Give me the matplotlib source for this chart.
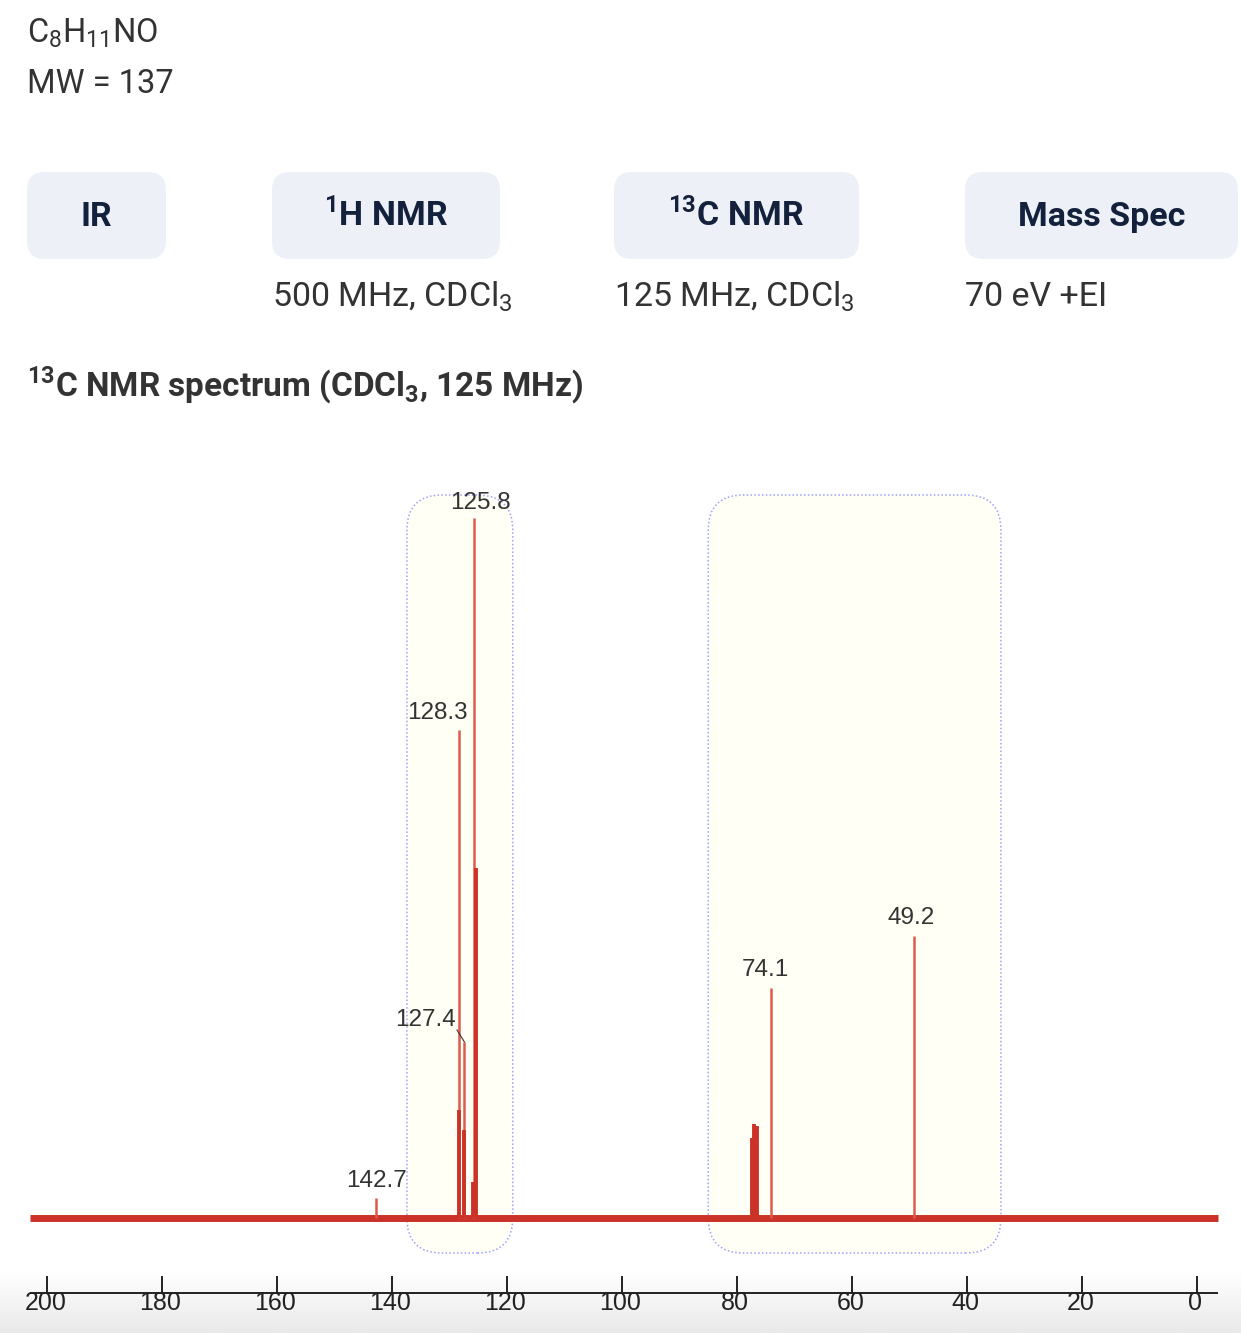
import matplotlib
matplotlib.use("Agg")
import matplotlib.pyplot as plt
import numpy as np
from matplotlib.patches import FancyBboxPatch

plt.rcParams['font.family'] = ['Roboto', 'DejaVu Sans']
plt.rcParams['mathtext.fontset'] = 'custom'
plt.rcParams['mathtext.rm'] = 'Roboto'
plt.rcParams['mathtext.bf'] = 'Roboto:bold'

# --- data -------------------------------------------------------------
formula = "C$_8$H$_{11}$NO"
mw_text = "MW = 137"
tabs = ["IR", "$^{\\mathbf{1}}$H NMR", "$^{\\mathbf{13}}$C NMR", "Mass Spec"]
tab_notes = ["", "500 MHz, CDCl$_3$", "125 MHz, CDCl$_3$", "70 eV +EI"]
heading = "$^{\\mathbf{13}}$C NMR spectrum (CDCl$_{\\mathbf{3}}$, 125 MHz)"

# main peak lines (ppm, height above baseline in px-like units)
peak_ppm = [142.7, 128.3, 127.4, 125.8, 74.1, 49.2]
peak_height = [20, 488, 176, 700, 230, 282]
peak_labels = ["142.7", "128.3", "127.4", "125.8", "74.1", "49.2"]
# broad lower parts / solvent lines
shoulder_ppm = [128.4, 127.5, 125.9, 125.4, 77.4, 77.0, 76.6]
shoulder_height = [108, 88, 36, 350, 80, 94, 92]

# highlighted regions (ppm)
regions = [(137.4, 119.0), (85.0, 34.1)]
ticks = [200, 180, 160, 140, 120, 100, 80, 60, 40, 20, 0]

# --- figure -----------------------------------------------------------
W, H = 1241, 1333
fig = plt.figure(figsize=(W / 100, H / 100), dpi=100)
fig.patch.set_facecolor("white")

ax0 = fig.add_axes([0, 0, 1, 1])
ax0.axis("off")

# bottom gradient
grad = np.linspace(0, 1, 50).reshape(-1, 1)
ax0.imshow(grad, extent=[0, W, H, 1272], cmap=matplotlib.colors.LinearSegmentedColormap.from_list(
    "g", ["#ffffff", "#e9e9e9"]), aspect="auto", zorder=0)
ax0.set_xlim(0, W)
ax0.set_ylim(H, 0)

txt = "#333333"
navy = "#14213d"
ax0.text(27, 42, formula, fontsize=23.5, color=txt, va="baseline")
ax0.text(27, 93, mw_text, fontsize=23.5, color=txt, va="baseline")

tab_boxes = [(27, 139), (272, 228), (614, 245), (965, 273)]
for (x, w), label, note in zip(tab_boxes, tabs, tab_notes):
    ax0.add_patch(FancyBboxPatch((x, 172), w, 87, boxstyle="round,pad=0,rounding_size=18",
                                 facecolor="#edf1f7", edgecolor="none"))
    ax0.text(x + w / 2, 226, label, fontsize=24.5, fontweight="bold", color=navy,
             ha="center", va="baseline")
    if note:
        ax0.text(x, 306, note, fontsize=24.5, color=txt, va="baseline")

ax0.text(27, 396, heading, fontsize=24, fontweight="bold", color=txt, va="baseline")

# --- spectrum ---------------------------------------------------------
top_px = 420
ax = fig.add_axes([0, 0, 1, (H - top_px) / H])
ax.patch.set_alpha(0)
px_per_ppm = 5.75
ax.set_xlim(1197 / px_per_ppm, (1197 - W) / px_per_ppm)
ax.set_ylim(1218 - H, 1218 - top_px)
ax.axis("off")

for lo, hi in regions:
    ax.add_patch(FancyBboxPatch((hi, -35), lo - hi, 758,
                                boxstyle="round,pad=0,rounding_size=6.1",
                                mutation_aspect=px_per_ppm,
                                facecolor="#fffff5", edgecolor="#9f9fff",
                                linestyle=(0, (1, 1.5)), linewidth=1.1, zorder=1))

red = "#cc3328"
ax.hlines(0, 203.0, -3.65, color=red, linewidth=5, zorder=3)
ax.vlines(peak_ppm, 0, peak_height, color="#dd5a4c", linewidth=1.8, zorder=4)
ax.vlines(shoulder_ppm, 0, shoulder_height, color=red, linewidth=2.8, zorder=4)

label_off = {"142.7": (0, 4, "center"), "128.3": (6, 4, "right"),
             "127.4": (-6, 8, "right"), "125.8": (5, 3, "center"),
             "74.1": (-4, 5, "center"), "49.2": (-2, 5, "center")}
for p, h, lab in zip(peak_ppm, peak_height, peak_labels):
    dx, dy, ha = label_off[lab]
    ax.annotate(lab, (p, h), xytext=(dx, dy), textcoords="offset points",
                ha=ha, va="bottom", fontsize=17.5, color="#333333",
                family="Liberation Sans", zorder=5)
# leader for 127.4
ax.plot([128.7, 127.4], [188, 176], color="#333333", linewidth=0.8, zorder=5)

# axis
ax.hlines(-75, 203.0, -3.65, color="#222222", linewidth=1.4, zorder=3)
ax.vlines(ticks, -75, -58, color="#222222", linewidth=1.4, zorder=3)
for t in ticks:
    ax.text(t + 0.3, -72.5, str(t), ha="center", va="top", fontsize=18, color="#222222",
            family="Liberation Sans", zorder=3)

fig.savefig("out.png", dpi=100)
